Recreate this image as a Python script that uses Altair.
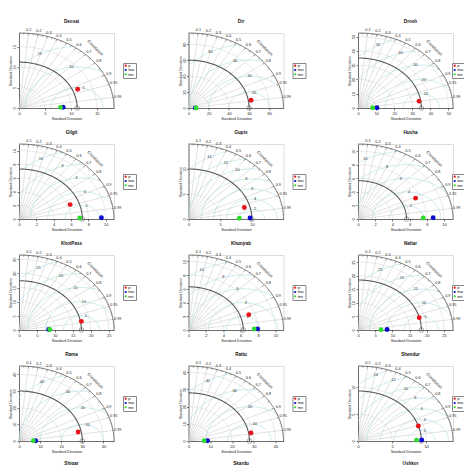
import altair as alt
import numpy as np
import pandas as pd

FONT = "Liberation Sans"

# ---------------- data ----------------
stations = ["Deosai", "Dir", "Drosh", "Gilgit", "Gupis", "Husha",
            "KhotPass", "Khunjrab", "Naltar", "Rama", "Rattu", "Shendur"]
next_row = ["Shigar", "Skardu", "Ushkor"]          # titles of the row cut off at the bottom
ref_sd   = [11.2, 60.0, 35.0, 7.3, 9.98, 5.65, 17.4, 6.3, 18.4, 30.0, 28.0, 9.3]
pr_sd    = [12.2, 62.7, 34.1, 6.26, 9.09, 7.37, 17.66, 7.29, 18.36, 28.5, 29.1, 9.29]
pr_cor   = [0.927, 0.988, 0.990, 0.942, 0.968, 0.909, 0.985, 0.952, 0.969, 0.982, 0.987, 0.954]
tmax_sd  = [8.5, 6.8, 10.5, 9.5, 9.7, 8.75, 8.3, 7.95, 8.45, 7.9, 8.75, 9.36]
tmax_cor = [0.9998, 0.9998, 0.9998, 0.9998, 0.9998, 0.9998, 0.9998, 0.9998, 0.9998, 0.9998, 0.9998, 0.9998]
tmin_sd  = [8.0, 7.5, 8.1, 7.0, 8.0, 7.6, 8.6, 7.56, 6.7, 6.8, 7.2, 8.6]
tmin_cor = [0.9998, 0.9998, 0.9998, 0.9998, 0.9998, 0.9998, 0.9998, 0.9998, 0.9998, 0.9998, 0.9998, 0.9998]
sd_ticks = [[0, 5, 10, 15], [0, 20, 40, 60, 80], [0, 10, 20, 30, 40, 50],
            [0, 2, 4, 6, 8, 10], [0, 5, 10], [0, 2, 4, 6, 8, 10],
            [0, 5, 10, 15, 20, 25], [0, 2, 4, 6, 8, 10], [0, 5, 10, 15, 20, 25],
            [0, 10, 20, 30, 40], [0, 10, 20, 30, 40], [0, 5, 10]]
rms_levels = [[5, 10, 15], [20, 40, 60, 80], [10, 20, 30, 40, 50],
              [2, 4, 6, 8, 10], [2, 4, 6, 8, 10, 12, 14], [2, 4, 6, 8, 10],
              [5, 10, 15, 20, 25], [2, 4, 6, 8, 10], [5, 10, 15, 20, 25],
              [10, 20, 30, 40], [10, 20, 30, 40], [2, 4, 6, 8, 10, 12, 14]]
series = ["pr", "tmax", "tmin"]
series_colors = ["#e8141c", "#0a0ad0", "#2edb2e"]
corr_labels = [0.1, 0.2, 0.3, 0.4, 0.5, 0.6, 0.7, 0.8, 0.9, 0.95, 0.99]
corr_med = [0.05, 0.15, 0.25, 0.35, 0.45, 0.55, 0.65, 0.75, 0.85, 0.95]
corr_small = [0.91, 0.92, 0.93, 0.94, 0.96, 0.97, 0.98, 0.99]

W, H = 95, 75


def lines_frame(curves):
    rows = []
    for k, xs, ys in curves:
        for o, (x, y) in enumerate(zip(xs, ys)):
            rows.append({"k": k, "o": o, "x": float(x), "y": float(y)})
    return pd.DataFrame(rows)


def panel(i):
    ref = ref_sd[i]
    rmax = 1.5 * max(ref, pr_sd[i])
    sc = alt.Scale(domain=[0, rmax], nice=False, zero=False)
    ax_x = alt.Axis(values=sd_ticks[i], title="Standard Deviation", grid=False,
                    labelFontSize=4, titleFontSize=3.6, titleFontWeight="normal",
                    tickSize=2, labelPadding=1, titlePadding=1.5,
                    domainColor="#222", tickColor="#222", domainWidth=0.6, tickWidth=0.6,
                    labelColor="#222", titleColor="#222", labelFont=FONT, titleFont=FONT,
                    labelFlush=False, labelOverlap=False, format="d")
    ax_y = alt.Axis(values=sd_ticks[i], title="Standard Deviation", grid=False,
                    labelFontSize=4, titleFontSize=3.6, titleFontWeight="normal",
                    tickSize=2, labelPadding=0.5, titlePadding=0,
                    labelAngle=-90, labelAlign="center", labelBaseline="bottom",
                    domainColor="#222", tickColor="#222", domainWidth=0.6, tickWidth=0.6,
                    labelColor="#222", titleColor="#222", labelFont=FONT, titleFont=FONT,
                    labelFlush=False, labelOverlap=False, format="d")

    def XY(xf="x", yf="y"):
        return dict(x=alt.X(xf, type="quantitative", scale=sc, axis=ax_x),
                    y=alt.Y(yf, type="quantitative", scale=sc, axis=ax_y))

    quarter = np.linspace(0, np.pi / 2, 90)

    sd_df = lines_frame([(t, t * np.cos(quarter), t * np.sin(quarter))
                         for t in sd_ticks[i] if 0 < t < rmax])
    sd_layer = alt.Chart(sd_df).mark_line(color="#d2d2d2", strokeWidth=0.5).encode(
        detail="k:N", order="o:Q", **XY())

    ray_df = pd.DataFrame({"c": corr_labels})
    ray_df["x"] = 0.0
    ray_df["y"] = 0.0
    ray_df["x1"] = rmax * ray_df["c"]
    ray_df["y1"] = rmax * np.sqrt(1 - ray_df["c"] ** 2)
    ray_layer = alt.Chart(ray_df).mark_rule(color="#c4c4c4", strokeWidth=0.5).encode(
        x2=alt.X2("x1"), y2=alt.Y2("y1"), **XY())

    tk = []
    for lst, f in ((corr_labels[:9], 0.97), (corr_med, 0.98), (corr_small, 0.99)):
        for c in lst:
            s = np.sqrt(1 - c * c)
            tk.append({"x": f * rmax * c, "y": f * rmax * s, "x1": rmax * c, "y1": rmax * s})
    tick_layer = alt.Chart(pd.DataFrame(tk)).mark_rule(color="#555", strokeWidth=0.5).encode(
        x2=alt.X2("x1"), y2=alt.Y2("y1"), **XY())

    curves = []
    labs = []
    n = len(rms_levels[i])
    lpos = np.floor(np.linspace(45, 70, n)).astype(int)
    for j, g in enumerate(rms_levels[i]):
        c1 = (rmax ** 2 - ref ** 2 - g ** 2) / (2 * ref * g)
        t1 = 0.0 if c1 >= 1 else (np.pi if c1 <= -1 else np.arccos(c1))
        t2 = np.pi if g <= ref else np.arccos(-ref / g)
        if t2 > t1:
            th = np.linspace(t1, t2, 120)
            curves.append((g, ref + g * np.cos(th), g * np.sin(th)))
        th_l = (lpos[j] - 1) * 0.03
        lx, ly = ref + g * np.cos(th_l), g * np.sin(th_l)
        if lx > 0:
            labs.append({"x": lx, "y": ly, "t": str(g)})
    rms_layer = alt.Chart(lines_frame(curves)).mark_line(color="#a8dbe2", strokeWidth=0.6).encode(
        detail="k:N", order="o:Q", **XY())
    rms_text = alt.Chart(pd.DataFrame(labs)).mark_text(
        fontSize=3.8, color="#333", font=FONT).encode(text="t:N", **XY())

    ref_layer = alt.Chart(lines_frame([(0, ref * np.cos(quarter), ref * np.sin(quarter))])).mark_line(
        color="#5a5a5a", strokeWidth=1.1).encode(order="o:Q", **XY())
    out_layer = alt.Chart(lines_frame([(0, rmax * np.cos(quarter), rmax * np.sin(quarter))])).mark_line(
        color="#5a5a5a", strokeWidth=0.8).encode(order="o:Q", **XY())

    cl = pd.DataFrame({"c": corr_labels})
    cl["x"] = 1.05 * rmax * cl["c"]
    cl["y"] = 1.05 * rmax * np.sqrt(1 - cl["c"] ** 2)
    cl["t"] = [f"{c:g}" for c in corr_labels]
    corr_text = alt.Chart(cl).mark_text(fontSize=3.8, color="#222", font=FONT).encode(
        text="t:N", **XY())
    corr_title = alt.Chart(pd.DataFrame({"x": [0.8 * rmax], "y": [0.8 * rmax], "t": ["Correlation"]})).mark_text(
        fontSize=4.2, angle=45, color="#222", font=FONT).encode(text="t:N", **XY())

    ref_pt = alt.Chart(pd.DataFrame({"x": [ref], "y": [0.0]})).mark_point(
        shape="circle", filled=False, size=22, color="#555", strokeWidth=0.7).encode(**XY())

    leg_x = W + 9 if i % 3 < 2 else W - 1
    pts = pd.DataFrame({"series": series,
                        "sd": [pr_sd[i], tmax_sd[i], tmin_sd[i]],
                        "cor": [pr_cor[i], tmax_cor[i], tmin_cor[i]]})
    pt_layer = alt.Chart(pts).transform_calculate(
        x="datum.sd * datum.cor", y="datum.sd * sqrt(1 - datum.cor * datum.cor)"
    ).transform_calculate(o="indexof(['pr','tmax','tmin'], datum.series)").mark_circle(
        size=24, opacity=1).encode(
        color=alt.Color("series:N", scale=alt.Scale(domain=series, range=series_colors),
                        legend=alt.Legend(title=None, orient="none", legendX=leg_x, legendY=30,
                                          labelFontSize=2.8, labelFont=FONT, symbolSize=5,
                                          symbolType="circle", padding=1.2, strokeColor="#888",
                                          fillColor="white", rowPadding=0.3, labelOffset=1,
                                          symbolStrokeWidth=0)),
        order=alt.Order("o:Q"),
        **XY()
    )

    return alt.layer(sd_layer, ray_layer, rms_layer, tick_layer, ref_layer, out_layer,
                     rms_text, corr_text, corr_title, ref_pt, pt_layer).properties(
        width=W, height=H,
        title=alt.TitleParams(text=stations[i], fontSize=4.6, fontWeight="bold", font=FONT,
                              offset=4, dx=5, anchor="middle", color="#111"))


def title_only(name):
    # the next row of the figure is cut off by the picture's lower edge: only its titles show
    return alt.Chart(pd.DataFrame({"v": [0.0]})).mark_point(opacity=0).encode(
        x=alt.X("v:Q", axis=None), y=alt.Y("v:Q", axis=None)).properties(
        width=W, height=H,
        title=alt.TitleParams(text=name, fontSize=4.6, fontWeight="bold", font=FONT,
                              offset=11.5, dx=5, anchor="middle", color="#111"))


panels = [panel(i) for i in range(12)] + [title_only(s) for s in next_row]
chart = alt.concat(*panels, columns=3,
                   spacing={"row": 36, "column": 74.5}, bounds="flush").resolve_scale(
    color="independent").resolve_legend(color="independent").properties(
    padding={"left": 0, "top": 10, "right": -2, "bottom": -88}
).configure_view(stroke=None).configure(background="white", font=FONT)

chart.save("out.html", embed_options={"renderer": "svg", "actions": False})
